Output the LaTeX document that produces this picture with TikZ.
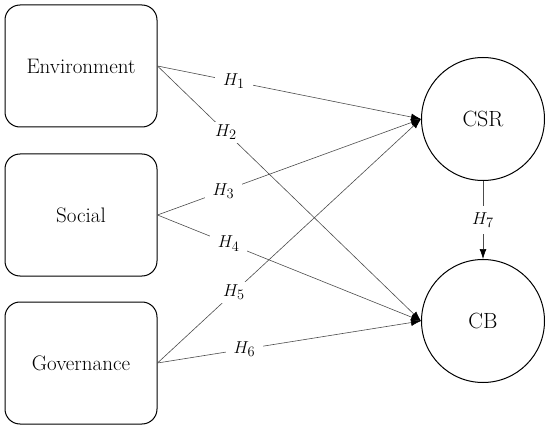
\documentclass[tikz,border=0pt]{standalone}
\usepackage{amsmath,amssymb}
\usepackage{xcolor}
\usepackage{tikz}
\usetikzlibrary{arrows.meta}

\begin{document}
\begin{tikzpicture}[x=1pt, y=-1pt,
    factor/.style={rectangle, rounded corners=15pt, draw, line width=1pt, minimum width=152pt, minimum height=122pt, align=center, font=\fontsize{21}{24}\selectfont},
    outcome/.style={circle, draw, line width=1pt, minimum size=123pt, inner sep=0pt, font=\fontsize{22}{24}\selectfont},
    path/.style={draw=black!70, line width=0.6pt, -{Latex[length=10pt, width=7pt, color=black]}},
    hyp/.style={fill=white, inner xsep=8pt, inner ysep=3pt, font=\fontsize{19}{21}\selectfont}]

    \useasboundingbox (0,0) rectangle (550,428);

    \node[factor] (env) at (81,66) {Environment};
    \node[factor] (soc) at (81,215) {Social};
    \node[factor] (gov) at (81,363) {Governance};

    \node[outcome] (csr) at (483,119) {CSR};
    \node[outcome] (cb) at (483,321) {CB};

    \draw[path] (env.east) -- node[hyp, pos=0.29] {$H_1$} (csr.west);
    \draw[path] (env.east) -- node[hyp, pos=0.26] {$H_2$} (cb.west);
    \draw[path] (soc.east) -- node[hyp, pos=0.25] {$H_3$} (csr.west);
    \draw[path] (soc.east) -- node[hyp, pos=0.27] {$H_4$} (cb.west);
    \draw[path] (gov.east) -- node[hyp, pos=0.29] {$H_5$} (csr.west);
    \draw[path] (gov.east) -- node[hyp, pos=0.33] {$H_6$} (cb.west);
    \draw[path] (csr.south) -- node[hyp, inner xsep=3pt, inner ysep=6pt] {$H_7$} (cb.north);

\end{tikzpicture}
\end{document}
